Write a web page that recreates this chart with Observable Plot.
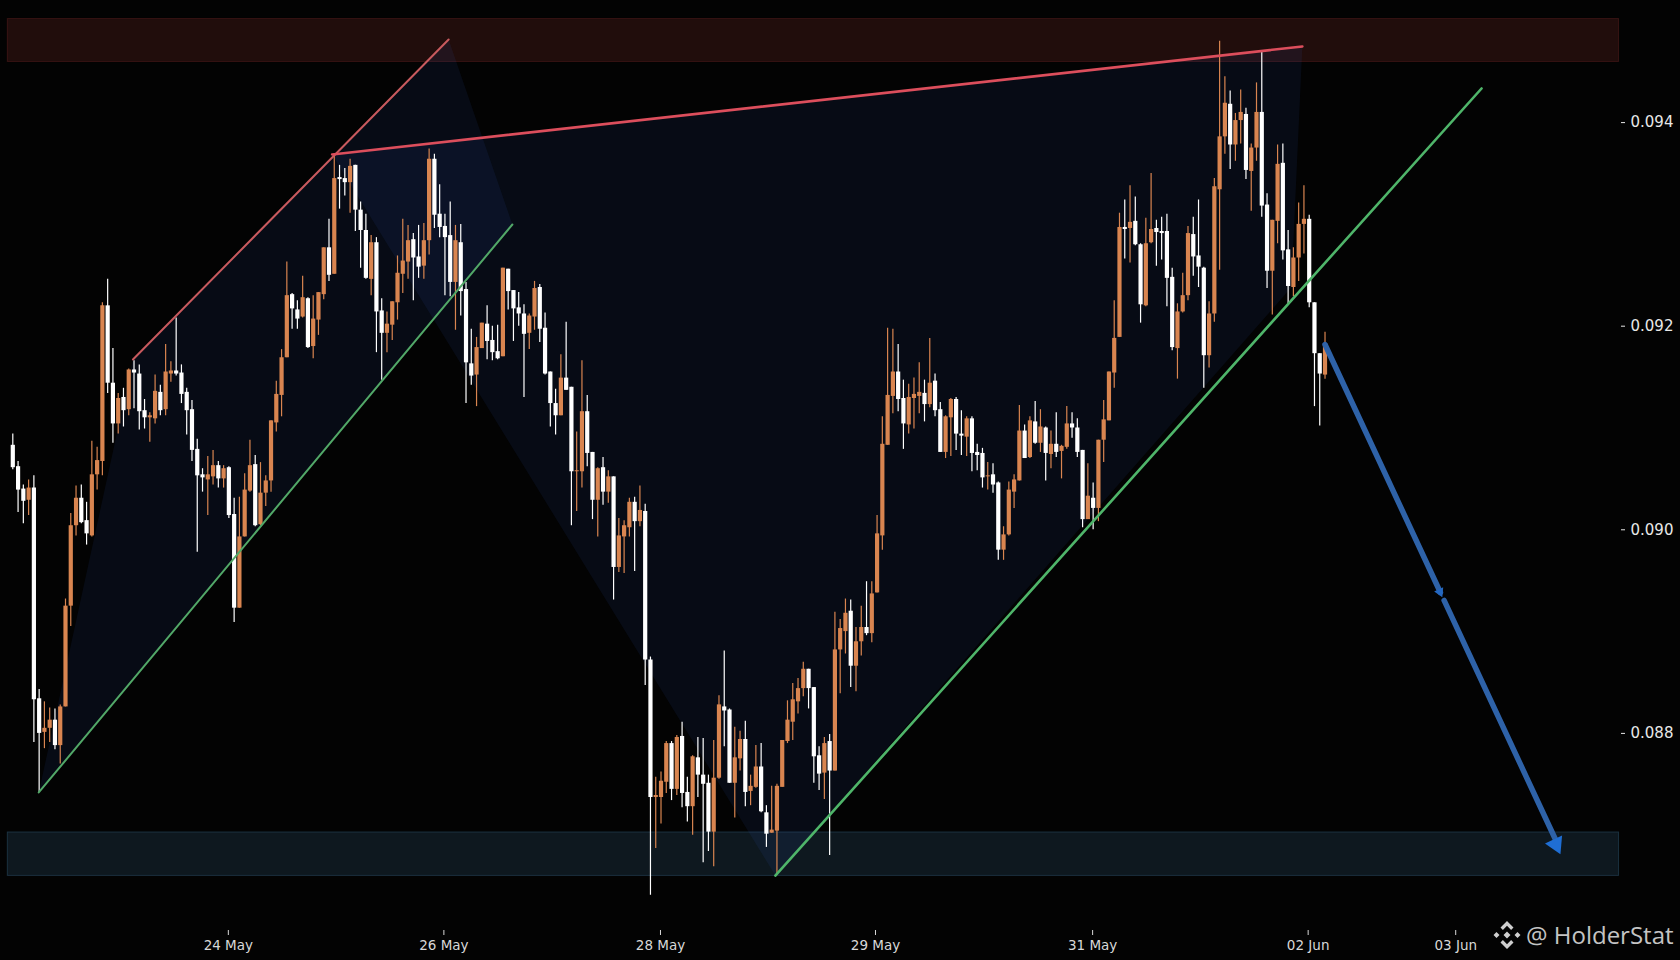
<!DOCTYPE html>
<html>
<head>
<meta charset="utf-8">
<script src="https://cdn.jsdelivr.net/npm/d3@7"></script>
<script src="https://cdn.jsdelivr.net/npm/@observablehq/plot@0.6"></script>
<style>
html,body{margin:0;padding:0;background:#030303;width:1680px;height:960px;overflow:hidden}
#chart{position:absolute;left:0;top:0}
#mark{position:absolute;left:1493px;top:918px;display:flex;align-items:center;color:#c4c4c4;font:24px "Open Sans",sans-serif;white-space:nowrap}
#mark svg{margin-right:5px}
</style>
</head>
<body>
<div id="chart"></div>
<div id="mark"><svg width="28" height="28" viewBox="0 0 28 28" fill="#cfcfcf"><path d="M14 0l6.5 6.5-2.4 2.4L14 4.8 9.900 8.900 7.500 6.500zM14 28l6.500-6.500-2.400-2.400L14 23.200l-4.100-4.100-2.400 2.400zM3.500 11l3 3-3 3-3-3zM24.500 11l3 3-3 3-3-3zM14 10.500l3.500 3.500-3.500 3.500-3.500-3.500z"/></svg><span>@ HolderStat</span></div>
<script>
// Prices are stored in units of 0.00001
const opens = [
9083,9062,9040,9029,9041,8834,8801,8805,8813,8788,
8826,8925,9004,9031,9009,8994,9054,9067,9220,9144,
9104,9130,9118,9157,9153,9117,9110,9109,9135,9118,
9153,9156,9154,9135,9118,9079,9054,9049,9052,9063,
9050,9061,9015,8923,8993,9038,9064,9005,9036,9048,
9105,9132,9169,9231,9216,9209,9227,9180,9206,9231,
9277,9251,9346,9345,9341,9358,9314,9294,9246,9282,
9215,9193,9201,9223,9251,9263,9285,9268,9259,9284,
9364,9310,9298,9289,9243,9282,9236,9163,9152,9178,
9202,9186,9175,9170,9256,9235,9218,9212,9193,9209,
9238,9198,9155,9124,9112,9149,9140,9057,9057,9116,
9076,9029,9061,9037,9052,8963,8993,9002,9027,9008,
9018,8872,8737,8737,8752,8790,8745,8797,8742,8728,
8776,8759,8751,8703,8756,8826,8823,8751,8775,8794,
8743,8747,8767,8722,8702,8704,8747,8792,8811,8831,
8844,8863,8845,8778,8761,8792,8763,8882,8900,8920,
8866,8890,8904,8898,8938,8994,9083,9131,9155,9129,
9103,9129,9131,9134,9123,9146,9118,9076,9110,9128,
9094,9091,9109,9076,9075,9052,9054,9046,8980,8995,
9037,9048,9097,9071,9106,9085,9100,9074,9084,9077,
9081,9104,9100,9078,9010,9031,9021,9088,9107,9154,
9189,9297,9296,9303,9280,9220,9282,9296,9293,9293,
9248,9178,9214,9230,9290,9269,9257,9171,9212,9334,
9386,9418,9378,9402,9408,9352,9375,9410,9319,9254,
9303,9360,9275,9238,9267,9300,9305,9223,9173,9152];
const closes = [
9061,9039,9028,9041,8833,8800,8805,8813,8788,8826,
8925,9004,9031,9007,8996,9054,9068,9220,9144,9104,
9129,9117,9157,9154,9116,9110,9112,9136,9117,9155,
9156,9153,9133,9117,9078,9053,9051,9054,9063,9050,
9060,9014,8923,8993,9039,9063,9004,9036,9048,9107,
9133,9169,9230,9217,9207,9228,9179,9207,9233,9277,
9250,9345,9344,9341,9357,9314,9294,9247,9282,9214,
9193,9202,9224,9252,9264,9284,9267,9258,9284,9364,
9309,9297,9287,9243,9284,9234,9164,9151,9179,9203,
9185,9174,9168,9257,9234,9217,9212,9192,9210,9237,
9197,9153,9124,9112,9149,9137,9057,9058,9116,9075,
9029,9060,9037,9052,8963,8994,9004,9027,9008,9019,
8872,8737,8739,8753,8790,8745,8796,8741,8728,8777,
8759,8750,8703,8756,8828,8822,8751,8776,8794,8742,
8748,8767,8723,8701,8705,8748,8793,8813,8833,8844,
8863,8844,8777,8760,8790,8763,8882,8903,8918,8866,
8890,8904,8898,8937,8996,9084,9132,9155,9128,9104,
9130,9133,9135,9123,9144,9117,9076,9111,9128,9094,
9092,9109,9075,9073,9051,9053,9044,8980,8995,9039,
9049,9097,9070,9107,9085,9101,9075,9084,9076,9082,
9104,9100,9076,9010,9033,9021,9088,9108,9155,9188,
9297,9295,9302,9280,9221,9281,9295,9292,9291,9247,
9179,9214,9230,9291,9268,9258,9171,9212,9337,9386,
9419,9378,9402,9410,9353,9375,9410,9318,9254,9304,
9359,9274,9239,9267,9300,9305,9223,9173,9153,9183];
const highs = [
9094,9067,9044,9049,9053,8843,8831,8825,8824,8828,
8932,9016,9043,9044,9027,9087,9081,9223,9246,9178,
9134,9139,9158,9166,9162,9128,9115,9152,9142,9182,
9165,9208,9162,9139,9127,9089,9060,9072,9078,9067,
9063,9062,9031,9032,9055,9088,9073,9066,9053,9107,
9146,9177,9263,9232,9225,9249,9228,9230,9233,9277,
9305,9368,9358,9355,9364,9358,9322,9310,9289,9287,
9227,9214,9224,9269,9305,9299,9291,9299,9301,9374,
9369,9339,9310,9322,9299,9300,9243,9197,9189,9203,
9220,9200,9201,9257,9256,9235,9233,9221,9212,9244,
9241,9213,9155,9138,9172,9204,9140,9096,9166,9132,
9076,9061,9071,9058,9052,9011,9009,9031,9032,9043,
9025,8875,8757,8762,8792,8792,8798,8811,8757,8778,
8796,8795,8759,8793,8837,8881,8824,8806,8802,8812,
8759,8788,8790,8729,8748,8750,8793,8832,8849,8854,
8870,8863,8845,8787,8796,8799,8919,8912,8932,8931,
8904,8925,8949,8949,9014,9111,9198,9197,9182,9147,
9143,9149,9164,9147,9188,9153,9125,9112,9129,9130,
9117,9111,9111,9084,9080,9066,9065,9047,9003,9047,
9054,9122,9103,9111,9126,9118,9101,9097,9115,9083,
9121,9115,9109,9078,9065,9046,9088,9127,9155,9225,
9311,9324,9338,9327,9281,9306,9350,9304,9307,9310,
9257,9222,9252,9298,9307,9324,9258,9224,9345,9480,
9445,9431,9409,9432,9414,9379,9439,9470,9330,9304,
9378,9379,9294,9277,9321,9338,9309,9223,9173,9194];
const lows = [
9059,9017,9006,9014,8791,8742,8785,8791,8784,8770,
8826,8905,8994,9006,8985,8993,9039,9053,9134,9085,
9094,9101,9112,9119,9098,9099,9086,9104,9112,9112,
9145,9151,9124,9093,9067,8978,9037,9014,9044,9041,
9041,9011,8909,8923,8993,9037,9003,9004,9023,9037,
9096,9111,9169,9197,9197,9208,9178,9168,9191,9226,
9244,9251,9315,9328,9311,9293,9257,9246,9230,9174,
9147,9174,9186,9206,9232,9246,9225,9247,9246,9270,
9296,9287,9230,9229,9196,9210,9124,9142,9121,9178,
9167,9166,9167,9170,9216,9185,9200,9130,9177,9196,
9184,9152,9101,9093,9112,9137,9004,9018,9041,9062,
9010,8993,9024,9026,8931,8958,8957,8993,8959,9003,
8847,8641,8687,8711,8741,8734,8739,8727,8713,8700,
8737,8673,8684,8669,8755,8787,8751,8717,8763,8728,
8729,8746,8722,8688,8702,8661,8747,8790,8793,8819,
8836,8824,8751,8744,8735,8680,8763,8839,8878,8845,
8841,8876,8896,8889,8938,8980,9083,9114,9116,9079,
9094,9099,9114,9106,9120,9111,9076,9070,9072,9078,
9073,9072,9057,9058,9041,9039,9036,8970,8970,8994,
9021,9048,9070,9070,9084,9076,9048,9060,9071,9050,
9079,9090,9071,9002,9010,9000,9008,9066,9107,9139,
9189,9266,9262,9279,9203,9219,9281,9259,9265,9219,
9176,9148,9213,9225,9249,9238,9139,9159,9204,9255,
9369,9354,9362,9379,9344,9313,9362,9307,9237,9211,
9281,9265,9222,9229,9244,9271,9218,9121,9102,9148];

const tickPositions = [40.9, 81.8, 122.9, 163.7, 204.9, 245.8, 273.8];
const tickLabels = ["24 May", "26 May", "28 May", "29 May", "31 May", "02 Jun", "03 Jun"];
const priceTicks = [0.088, 0.090, 0.092, 0.094];

const zoneX = [-0.95, 304.8];
const resistanceZone = [0.094595, 0.095018];
const supportZone = [0.0866, 0.087027];

const wedgeOneX = [4.93, 22.8, 82.7, 94.8];
const wedgeOneY = [0.08742, 0.091673, 0.094816, 0.092999];
const wedgeTwoX = [60.6, 244.7, 242.6, 144.7];
const wedgeTwoY = [0.093687, 0.094748, 0.09238, 0.086604];

const redThinX = [22.8, 82.7];
const redThinY = [0.091673, 0.094816];
const redWideX = [60.6, 244.7];
const redWideY = [0.093687, 0.094748];
const greenOneX = [4.93, 94.8];
const greenOneY = [0.08742, 0.092999];
const greenTwoX = [144.7, 278.7];
const greenTwoY = [0.086604, 0.094335];

const arrowUpperX = [249, 270.9];
const arrowUpperY = [0.09182, 0.089384];
const arrowLowerX = [271.6, 292.8];
const arrowLowerY = [0.089306, 0.08695];
const midHead = {x: 270.8, y: 0.089389};
const endHead = {x: 292.8, y: 0.08691};

const idx = d3.range(opens.length);
const pts = (xs, ys) => xs.map((x, i) => ({x, y: ys[i]}));
const orange = "#d98550", white = "#ffffff";
const colorOf = i => closes[i] >= opens[i] ? orange : white;

const chart = Plot.plot({
  width: 1680, height: 960,
  marginLeft: 0, marginRight: 60, marginTop: 0, marginBottom: 30,
  style: {background: "#030303", color: "#e2e2e2", fontFamily: "DejaVu Sans"},
  x: {domain: [-2.334, 305.07], axis: null},
  y: {domain: [0.0860638, 0.0951994], axis: null},
  marks: [
    Plot.rect([0], {x1: zoneX[0], x2: zoneX[1], y1: resistanceZone[0], y2: resistanceZone[1],
      fill: "#ef5350", fillOpacity: 0.13, stroke: "#ef5350", strokeOpacity: 0.16}),
    Plot.rect([0], {x1: zoneX[0], x2: zoneX[1], y1: supportZone[0], y2: supportZone[1],
      fill: "#4682aa", fillOpacity: 0.17, stroke: "#4682aa", strokeOpacity: 0.3}),
    Plot.line(pts(wedgeOneX, wedgeOneY), {x: "x", y: "y", curve: "linear-closed", fill: "#3a5fc8", fillOpacity: 0.095, stroke: "none"}),
    Plot.line(pts(wedgeTwoX, wedgeTwoY), {x: "x", y: "y", curve: "linear-closed", fill: "#3a5fc8", fillOpacity: 0.095, stroke: "none"}),
    Plot.ruleX(idx, {x: i => i, y1: i => lows[i] / 1e5, y2: i => highs[i] / 1e5, stroke: colorOf, strokeWidth: 1.2}),
    Plot.ruleX(idx, {x: i => i, y1: i => opens[i] / 1e5, y2: i => closes[i] / 1e5, stroke: colorOf, strokeWidth: 4.2}),
    Plot.line(pts(redThinX, redThinY), {x: "x", y: "y", stroke: "#c85a5e", strokeWidth: 2}),
    Plot.line(pts(redWideX, redWideY), {x: "x", y: "y", stroke: "#dc4e5c", strokeWidth: 2.6}),
    Plot.line(pts(greenOneX, greenOneY), {x: "x", y: "y", stroke: "#52a868", strokeWidth: 2}),
    Plot.line(pts(greenTwoX, greenTwoY), {x: "x", y: "y", stroke: "#4fb56a", strokeWidth: 2.6}),
    Plot.line(pts(arrowUpperX, arrowUpperY), {x: "x", y: "y", stroke: "#2e62a8", strokeWidth: 5.5}),
    Plot.line(pts(arrowLowerX, arrowLowerY), {x: "x", y: "y", stroke: "#2e62a8", strokeWidth: 5.5}),
    Plot.dot([midHead], {x: "x", y: "y", r: 3.7, symbol: "triangle", rotate: 155, fill: "#2467c0", stroke: "none"}),
    Plot.dot([endHead], {x: "x", y: "y", r: 7, symbol: "triangle", rotate: 155, fill: "#1f6ed4", stroke: "none"}),
    Plot.axisX({anchor: "bottom", ticks: tickPositions, tickFormat: d => tickLabels[tickPositions.indexOf(d)],
      label: null, tickSize: 5, tickPadding: 5, fontSize: 13.5, color: "#d8d8d8"}),
    Plot.axisY({anchor: "right", ticks: priceTicks, tickFormat: d3.format(".3f"),
      label: null, tickSize: 4, tickPadding: 6, fontSize: 15, color: "#e8e8e8"})
  ]
});
document.getElementById("chart").appendChild(chart);
</script>
</body>
</html>
